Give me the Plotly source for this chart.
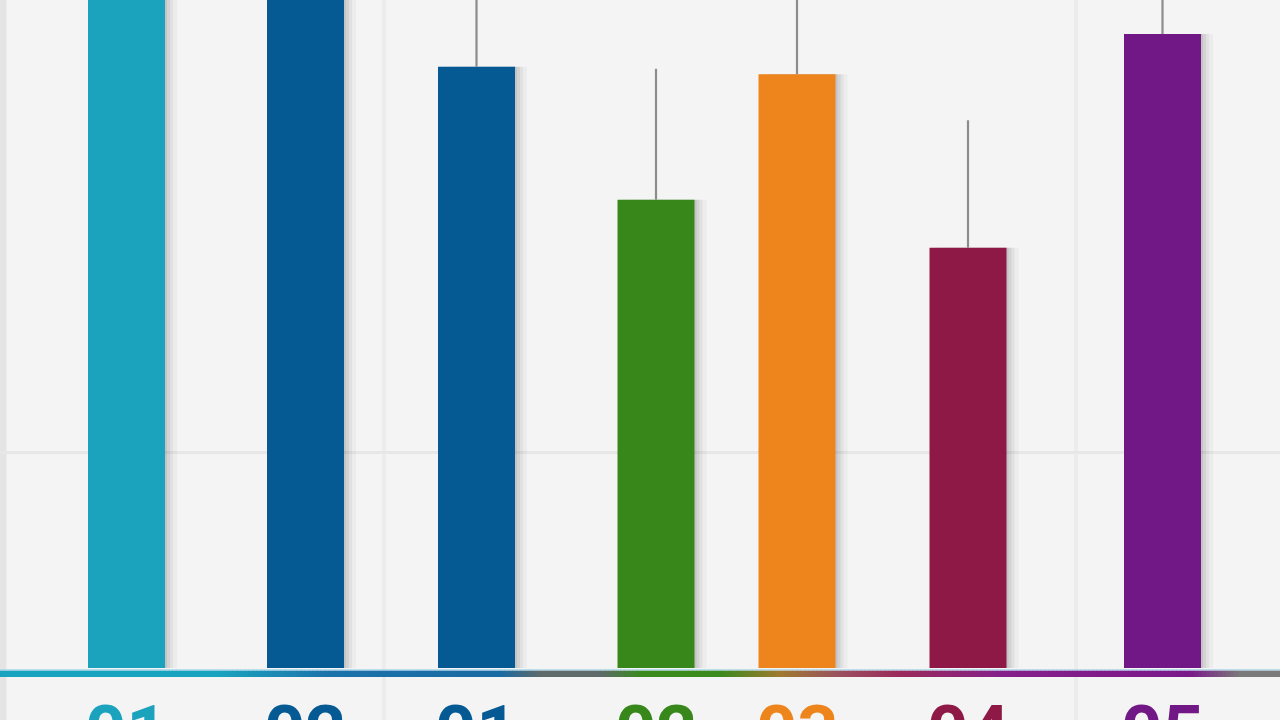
import plotly.graph_objects as go

# ---- data ----
labels = ["01", "02", "01", "02", "03", "04", "05"]
values = [106, 106, 90.0, 70.1, 88.9, 62.9, 94.9]
whisker_tops = [106, 106, 112, 89.7, 112, 82.0, 112]
colors = ["#1ba3be", "#055a94", "#055a94", "#38871b", "#ee841c", "#8f1946", "#721786"]

# ---- layout constants (pixel-based x axis) ----
x_pos = [126.5, 305.5, 476.5, 656, 797, 968, 1162.5]
bar_w = 77
PX_PER_UNIT = 6.68
BASE_PX = 668
y_range = [-(720 - BASE_PX) / PX_PER_UNIT, BASE_PX / PX_PER_UNIT]

def px_to_y(py):
    return (BASE_PX - py) / PX_PER_UNIT

fig = go.Figure()

# soft shadows to the right of bars
for off, alpha in [(12, 0.03), (8, 0.045), (5, 0.06), (2, 0.07)]:
    fig.add_trace(go.Bar(
        x=[x + off for x in x_pos], y=values, width=bar_w,
        marker=dict(color=f"rgba(0,0,0,{alpha})", line=dict(width=0)),
        hoverinfo="skip", showlegend=False,
    ))

# bars with whiskers (error bars above each bar)
fig.add_trace(go.Bar(
    x=x_pos, y=values, width=bar_w,
    marker=dict(color=colors, line=dict(width=0)),
    error_y=dict(type="data", symmetric=False,
                 array=[t - v for t, v in zip(whisker_tops, values)],
                 arrayminus=[0] * len(values),
                 color="#8c8c8c", thickness=2.2, width=0),
    showlegend=False,
))

fig.update_layout(barmode="overlay")

shapes = []
# background panels / lines
shapes.append(dict(type="rect", xref="paper", yref="paper", x0=0, x1=0.005, y0=0, y1=1,
                   fillcolor="#e4e4e4", line=dict(width=0), layer="below"))
for xl in [384, 1076]:
    shapes.append(dict(type="rect", xref="x", yref="paper", x0=xl - 2, x1=xl + 2, y0=0, y1=1,
                       fillcolor="#ececec", line=dict(width=0), layer="below"))
shapes.append(dict(type="rect", xref="paper", yref="y", x0=0, x1=1,
                   y0=px_to_y(454), y1=px_to_y(451),
                   fillcolor="#e7e7e7", line=dict(width=0), layer="below"))

# gradient baseline built from colour stops
stops = [(0, "#1aa3be"), (220, "#1aa3be"), (330, "#1c72ab"), (500, "#1a6aa3"),
         (540, "#5f6a6a"), (600, "#5f6a6a"), (640, "#3a8a1e"), (720, "#3a8a1e"),
         (780, "#a07a30"), (840, "#9a5060"), (900, "#9a2a5a"), (1000, "#86208a"),
         (1190, "#7a1a8a"), (1240, "#7a7a7a"), (1280, "#7a7a7a")]

def hex2rgb(h):
    h = h.lstrip("#")
    return tuple(int(h[i:i + 2], 16) for i in (0, 2, 4))

step = 4
for i in range(len(stops) - 1):
    xa, ca = stops[i]
    xb, cb = stops[i + 1]
    ra, rb = hex2rgb(ca), hex2rgb(cb)
    xs = xa
    while xs < xb:
        xe = min(xs + step, xb)
        t = ((xs + xe) / 2 - xa) / (xb - xa)
        c = tuple(int(ra[k] + (rb[k] - ra[k]) * t) for k in range(3))
        shapes.append(dict(type="rect", xref="x", yref="y", x0=xs, x1=xe + 0.5,
                           y0=px_to_y(677), y1=px_to_y(670.5),
                           fillcolor=f"rgb{c}", line=dict(width=0), layer="above"))
        xs = xe
shapes.append(dict(type="rect", xref="x", yref="y", x0=0, x1=1280,
                   y0=px_to_y(670.5), y1=px_to_y(669),
                   fillcolor="rgba(170,215,235,0.8)", line=dict(width=0), layer="above"))

fig.update_layout(shapes=shapes)

# labels (cut off by the bottom edge, as in the reference)
for x, lab, c in zip(x_pos, labels, colors):
    fig.add_annotation(x=x, y=px_to_y(688), xref="x", yref="y", text=f"<b>{lab}</b>",
                       showarrow=False, yanchor="top", xanchor="center",
                       font=dict(family="Liberation Sans Narrow, Arial Narrow, Roboto, sans-serif",
                                 size=72, color=c))

fig.update_layout(
    width=1280, height=720,
    margin=dict(l=0, r=0, t=0, b=0),
    paper_bgcolor="#f3f3f3", plot_bgcolor="#f4f4f4",
    xaxis=dict(range=[0, 1280], visible=False, fixedrange=True),
    yaxis=dict(range=y_range, visible=False, fixedrange=True),
    showlegend=False,
)

fig.write_html(
    "out.html",
    config={"displayModeBar": False},
    post_script="document.body.style.margin='0';document.body.style.overflow='hidden';"
                "document.body.style.background='#f3f3f3';",
)
